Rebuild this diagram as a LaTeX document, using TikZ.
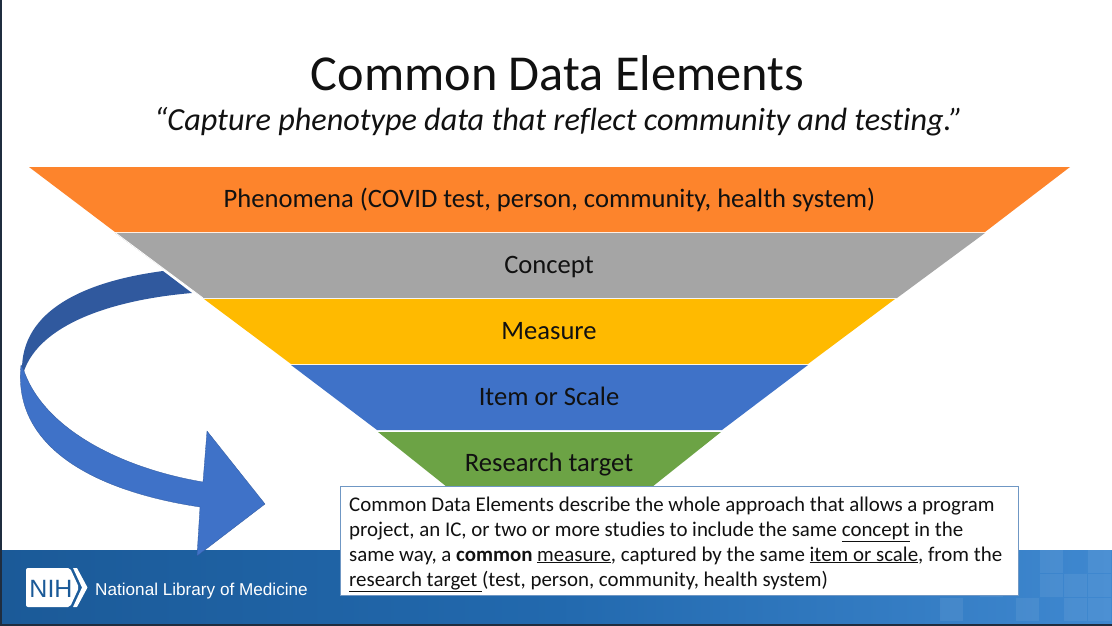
\documentclass[tikz,border=0pt]{standalone}
\usepackage{fontspec}
\setmainfont[Ligatures=NoCommon]{Carlito}
\newfontfamily\logofont{Liberation Sans}
\usetikzlibrary{shadings}
\definecolor{cOrange}{HTML}{FD842C}
\definecolor{cGray}{HTML}{A5A5A5}
\definecolor{cYellow}{HTML}{FFBA00}
\definecolor{cBlue}{HTML}{3F72C8}
\definecolor{cGreen}{HTML}{6CA345}
\definecolor{cDark}{HTML}{30599E}
\definecolor{cEdge}{HTML}{1F2D3F}
\definecolor{cBandL}{HTML}{1B5A98}
\definecolor{cBandM}{HTML}{2269AE}
\definecolor{cBandR}{HTML}{3F88D0}
\definecolor{cBox}{HTML}{6F97C4}
\definecolor{cInk}{HTML}{111111}
\tikzset{
 layerlabel/.style={font=\fontsize{26.6}{30}\selectfont,text=cInk,inner sep=0pt,anchor=base},
 tile/.style={fill=white,fill opacity=0.07,draw=none},
}
\begin{document}
\begin{tikzpicture}[x=1pt,y=-1pt]
\useasboundingbox (0,0) rectangle (1112,626);
\fill[white] (0,0) rectangle (1112,626);
% band
\shade[left color=cBandL,right color=cBandR,middle color=cBandM] (2,550) rectangle (1112,624);
\foreach \x/\y in {1040/550,1064/574,1088/550,1016/598,1064/598,1088/598,980/574,940/598,1088/574,1040/574}
  \fill[tile] (\x,\y) rectangle ++(23,23);
\fill[cEdge] (0,0) rectangle (2,626);
\fill[cEdge] (0,624) rectangle (1112,626);
% arrow
\fill[cBlue,draw=cDark,line width=0.3pt] (23,368) .. controls (42,428) and (120,468) .. (203,482)
  -- (207,431) -- (265,504) -- (197,556) -- (200,507)
  .. controls (100,492) and (12,450) .. (21,365) -- cycle;
\fill[cDark] (163,271) .. controls (95,280) and (24,305) .. (22,367) -- (24,371)
  .. controls (40,325) and (110,300) .. (192,293) -- cycle;
% funnel
\fill[cOrange] (29,167) -- (1070,167) -- (985,232) -- (115,232) -- cycle;
\fill[cGray] (115,233) -- (985,233) -- (897,298) -- (203,298) -- cycle;
\fill[cYellow] (204,299) -- (895,299) -- (808,364) -- (291,364) -- cycle;
\fill[cBlue] (291,365) -- (808,365) -- (722,430) -- (377,430) -- cycle;
\fill[cGreen] (378,432) -- (721,432) -- (652,487) -- (447,487) -- cycle;
\draw[white,line width=0.8pt] (115,232.5) -- (203,298);
% titles
\node[anchor=base,inner sep=0pt,font=\fontsize{50.3}{56}\selectfont,text=cInk] (title) at (557.5,91) {Common Data Elements};
\node[anchor=base,inner sep=0pt,font=\itshape\fontsize{32.2}{38}\selectfont,text=cInk] (subtitle) at (558.5,131) {“Capture phenotype data that reflect community and testing.”};
% layers
\node[layerlabel] (phen) at (549.5,207) {Phenomena (COVID test, person, community, health system)};
\node[layerlabel] (conc) at (549,273) {Concept};
\node[layerlabel] (meas) at (549,339) {Measure};
\node[layerlabel] (item) at (549,405) {Item or Scale};
\node[layerlabel] (targ) at (549,471) {Research target};
% box
\fill[white,draw=cBox,line width=1pt] (340.5,486.5) rectangle (1018.5,595);
\begin{scope}[every node/.style={anchor=base west,inner sep=0pt,font=\fontsize{20.9}{24}\selectfont,text=cInk}]
\node (l1) at (349,511) {Common Data Elements describe the whole approach that allows a program};
\node (l2) at (349,536) {project, an IC, or two or more studies to include the same \underline{concept} in the};
\node (l3) at (349,561) {same way, a \textbf{common} \underline{measure}, captured by the same \underline{item or scale}, from the};
\node (l4) at (349,586) {\underline{research target }(test, person, community, health system)};
\end{scope}
% logo
\fill[white,rounded corners=2pt] (26,568) -- (70,568) -- (79,587.5) -- (70,607) -- (26,607) -- cycle;
\fill[white,rounded corners=0.5pt] (73,568) -- (77,568) -- (87.5,587.5) -- (77,607) -- (73,607) -- (82,587.5) -- cycle;
\node[anchor=base,inner sep=0pt,font=\logofont\fontsize{25}{28}\selectfont,text=cBandL] (nih) at (51,597) {NIH};
\node[anchor=base west,inner sep=0pt,font=\logofont\fontsize{17.15}{20}\selectfont,text=white] (nlm) at (95,595) {National Library of Medicine};
\end{tikzpicture}
\end{document}
